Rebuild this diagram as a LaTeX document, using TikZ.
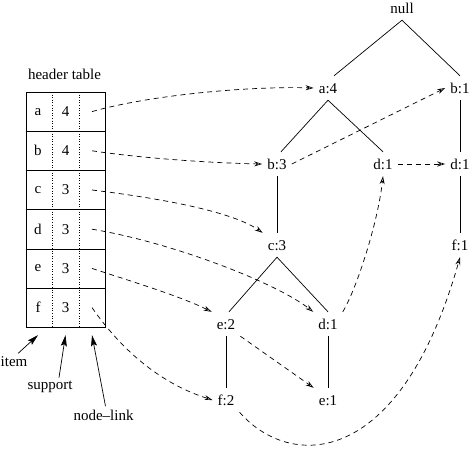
\documentclass[tikz,border=0pt]{standalone}
\usepackage{fontspec}
\setmainfont{Liberation Serif}
\usetikzlibrary{positioning,arrows.meta}
\tikzstyle{hrow}=[rectangle, draw=black, line width=0.6pt, minimum width=79pt,
                  minimum height=39.2pt, inner sep=0pt, outer sep=0pt]
\tikzstyle{tnode}=[inner xsep=5pt, inner ysep=0pt, minimum height=24pt,
                   text height=10pt, text depth=0pt]
\tikzstyle{pline}=[-, line width=0.7pt]
\tikzstyle{lline}=[line width=0.7pt, dash pattern=on 5pt off 4pt,
                   -{Stealth[open,length=8pt,width=5pt]}]
\tikzstyle{tline}=[line width=0.7pt, -{Stealth[length=11pt,width=6pt,inset=2pt]}]

\begin{document}
\begin{tikzpicture}[x=1pt,y=-1pt,font=\fontsize{15}{18}\selectfont]
\useasboundingbox (0,0) rectangle (474,450);

\node (HDR) at (64.5,74) {header table};
\node (RA) [hrow] at (65.5,111.6) {};
\node (IA) at ([xshift=12pt]RA.west) {a};
\node (SA) at (RA.center) {4};
\coordinate (LA) at ([xshift=-13pt]RA.east);
\node (RB) [hrow,below=0pt of RA] {};
\node (IB) at ([xshift=12pt]RB.west) {b};
\node (SB) at (RB.center) {4};
\coordinate (LB) at ([xshift=-13pt]RB.east);
\node (RC) [hrow,below=0pt of RB] {};
\node (IC) at ([xshift=12pt]RC.west) {c};
\node (SC) at (RC.center) {3};
\coordinate (LC) at ([xshift=-13pt]RC.east);
\node (RD) [hrow,below=0pt of RC] {};
\node (ID) at ([xshift=12pt]RD.west) {d};
\node (SD) at (RD.center) {3};
\coordinate (LD) at ([xshift=-13pt]RD.east);
\node (RE) [hrow,below=0pt of RD] {};
\node (IE) at ([xshift=12pt]RE.west) {e};
\node (SE) at (RE.center) {3};
\coordinate (LE) at ([xshift=-13pt]RE.east);
\node (RF) [hrow,below=0pt of RE] {};
\node (IF) at ([xshift=12pt]RF.west) {f};
\node (SF) at (RF.center) {3};
\coordinate (LF) at ([xshift=-13pt]RF.east);
 \draw[dotted, line width=0.6pt] ([xshift=26pt]RA.north west) -- ([xshift=26pt]RF.south west);
 \draw[dotted, line width=0.6pt] ([xshift=53pt]RA.north west) -- ([xshift=53pt]RF.south west);

\node (ITEM) at (14,362) {item};
\node (SUP) at (50,387) {support};
\node (NL) at (103.5,415) {node--link};
\coordinate (PI) at ([xshift=12pt,yshift=-8pt]RF.south west);
\coordinate (PS) at ([yshift=-8pt]RF.south);
\coordinate (PL) at ([xshift=-13pt,yshift=-8pt]RF.south east);
 \draw[tline] ([xshift=4pt]ITEM.north) -- (PI);
 \draw[tline] ([xshift=9pt]SUP.north) -- (PS);
 \draw[tline] ([xshift=2pt]NL.north) -- (PL);

\node (NULL) [tnode] at (402,8) {null};
\node (A4) [tnode] at (328,88) {a:4};
\node (B1) [tnode] at (460,88) {b:1};
\node (B3) [tnode] at (277,164) {b:3};
\node (D1T) [tnode] at (383,164) {d:1};
\node (D1R) [tnode] at (460,164) {d:1};
\node (C3) [tnode] at (277,245) {c:3};
\node (F1) [tnode] at (460,245) {f:1};
\node (E2) [tnode] at (226,324) {e:2};
\node (D1L) [tnode] at (328,324) {d:1};
\node (F2) [tnode] at (226,400) {f:2};
\node (E1) [tnode] at (328,400) {e:1};
 \draw[pline] (NULL.south) -- ([xshift=6pt]A4.north);
 \draw[pline] (NULL.south) -- (B1.north);
 \draw[pline] (A4.south) -- ([xshift=4pt]B3.north);
 \draw[pline] (A4.south) -- (D1T.north);
 \draw[pline] (B1.south) -- (D1R.north);
 \draw[pline] (D1R.south) -- (F1.north);
 \draw[pline] (B3.south) -- (C3.north);
 \draw[pline] (C3.south) -- ([xshift=3pt]E2.north);
 \draw[pline] (C3.south) -- (D1L.north);
 \draw[pline] (E2.south) -- (F2.north);
 \draw[pline] (D1L.south) -- (E1.north);

 \draw[lline] (LA) .. controls (150,95) and (250,86) .. (A4.west);
 \draw[lline] (LB) .. controls (140,158) and (210,163) .. (B3.west);
 \draw[lline] (LC) .. controls (150,197) and (230,210) .. (C3.north west);
 \draw[lline] (LD) .. controls (170,242) and (275,282) .. (D1L.north west);
 \draw[lline] (LE) .. controls (130,281) and (180,296) .. (E2.north west);
 \draw[lline] (LF) .. controls (125,355) and (165,385) .. (F2.west);
 \draw[lline] (B3.east) -- (B1.west);
 \draw[lline] (D1T.east) -- (D1R.west);
 \draw[lline] (D1L.north east) .. controls (357,288) and (378,222) .. (D1T.south);
 \draw[lline] (E2.south east) -- (E1.north west);
 \draw[lline] (F2.south east) .. controls (290,470) and (400,470) .. (F1.south);

\end{tikzpicture}
\end{document}
